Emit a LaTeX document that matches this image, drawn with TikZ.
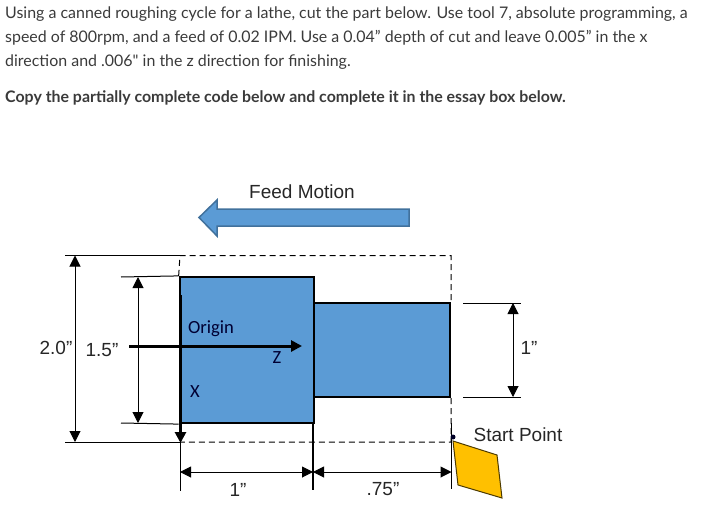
\documentclass[tikz,border=0pt]{standalone}
\usepackage{fontspec}
\setmainfont{Liberation Sans}
\newfontfamily\latofont{Lato}
\newfontfamily\calfont{Carlito}
\usetikzlibrary{arrows.meta}
\definecolor{partblue}{HTML}{5B9BD5}
\definecolor{arrowedge}{HTML}{41719C}
\definecolor{toolyellow}{HTML}{FFC000}
\definecolor{qtext}{HTML}{3A3A3A}
\tikzset{
  question/.style={anchor=base west, inner sep=0pt, text=qtext, font=\fontsize{15.95}{18}\selectfont\latofont},
  label/.style={inner sep=0pt, text=black!85, font=\fontsize{19}{20}\selectfont},
  axislabel/.style={inner sep=0pt, text=black!80!blue, font=\fontsize{18.6}{20}\selectfont\calfont},
  block/.style={draw=black, line width=2.2pt, fill=partblue, inner sep=0pt},
  dimline/.style={line width=1pt, {Triangle[length=11pt,width=11pt]}-{Triangle[length=11pt,width=11pt]}},
  extline/.style={line width=1pt},
  dashline/.style={line width=1pt, dash pattern=on 6pt off 4pt},
  axis/.style={line width=3pt, -{Triangle[length=11pt,width=11pt]}}
}
\begin{document}
\begin{tikzpicture}[x=1pt,y=-1pt]
\useasboundingbox (0,0) rectangle (702,522);

\node[question] (q1) at (5,18) {Using a canned roughing cycle for a lathe, cut the part below. Use tool 7, absolute programming, a};
\node[question] (q2) at (5,42) {speed of 800rpm, and a feed of 0.02 IPM. Use a 0.04” depth of cut and leave 0.005” in the x};
\node[question] (q3) at (5,66) {direction and .006" in the z direction for finishing.};
\node[question, font=\fontsize{15.9}{18}\selectfont\latofont\bfseries] (q4) at (5,102) {Copy the partially complete code below and complete it in the essay box below.};

% feed arrow
\node[label] (feed) at (302,192) {Feed Motion};
\draw[line width=1.5pt, draw=arrowedge, fill=partblue] (409,209) -- (217,209) -- (217,200) -- (199,217.5)
  -- (217,236) -- (217,226) -- (409,226) -- cycle;

% part
\node[block, minimum width=134.5pt, minimum height=146pt] (big) at (247,350) {};
\node[block, minimum width=136pt, minimum height=94pt] (small) at (382,350) {};

\coordinate (tl) at (180,255.5);
\coordinate (tr) at (451,255.5);
\coordinate (bl) at (180,442);
\coordinate (br) at (451,442);
\draw[dashline] (big.north west) -- (tl) -- (tr) -- (small.north east);
\draw[dashline] (small.south east) -- (br) -- (bl);

% 2.0 dimension
\coordinate (a1) at (65,255.5);
\coordinate (a2) at (65,442);
\coordinate (a3) at (75,255.5);
\coordinate (a4) at (75,442);
\draw[extline] (a1) -- (tl);
\draw[extline] (a2) -- (bl);
\draw[dimline] (a3) -- (a4);
\node[label] (d20) at (56,348) {2.0”};

% 1.5 dimension
\coordinate (b1) at (121,277);
\coordinate (b2) at (121,423);
\coordinate (b3) at (138,277);
\coordinate (b4) at (138,423);
\draw[extline] (b1) -- (big.north west);
\draw[extline] (b2) -- (big.south west);
\draw[dimline] (b3) -- (b4);
\node[label] (d15) at (102,350) {1.5”};

% axes
\coordinate (z0) at (129,346);
\coordinate (z1) at (302,346);
\coordinate (x0) at (180.5,295);
\coordinate (x1) at (180.5,443);
\draw[axis] (z0) -- (z1);
\draw[axis] (x0) -- (x1);
\node[axislabel] (origin) at (211,328.5) {Origin};
\node[axislabel] (zlabel) at (277,358) {Z};
\node[axislabel] (xlabel) at (195,392) {X};

% bottom dimensions
\coordinate (c1) at (180,491);
\coordinate (c2) at (313,490);
\coordinate (c3) at (451.5,489);
\coordinate (c4) at (313,423);
\coordinate (c5) at (451.5,423);
\coordinate (e1) at (180,472);
\coordinate (e2) at (313,472);
\coordinate (e3) at (451.5,472);
\draw[extline] (bl) -- (c1);
\draw[line width=1.5pt] (c4) -- (c2);
\draw[extline] (c5) -- (c3);
\draw[dimline] (e1) -- (e2);
\draw[dimline] (e2) -- (e3);
\node[label] (d1) at (238,490) {1”};
\node[label] (d75) at (383,489) {.75”};

% 1 inch dimension
\coordinate (f1) at (463,303);
\coordinate (f2) at (521,303);
\coordinate (f3) at (463,397);
\coordinate (f4) at (521,397);
\coordinate (f5) at (513,303);
\coordinate (f6) at (513,397);
\draw[extline] (f1) -- (f2);
\draw[extline] (f3) -- (f4);
\draw[dimline] (f5) -- (f6);
\node[label] (d1b) at (529,348) {1”};

% tool
\node[circle, fill=black!85!blue, minimum size=5pt, inner sep=0pt] (start) at (453,437) {};
\node[label] (startlabel) at (518,435) {Start Point};
\draw[line width=1pt, draw=black!70!toolyellow, fill=toolyellow] (453,441) -- (497,455) -- (502,498) -- (458,485) -- cycle;

\end{tikzpicture}
\end{document}
